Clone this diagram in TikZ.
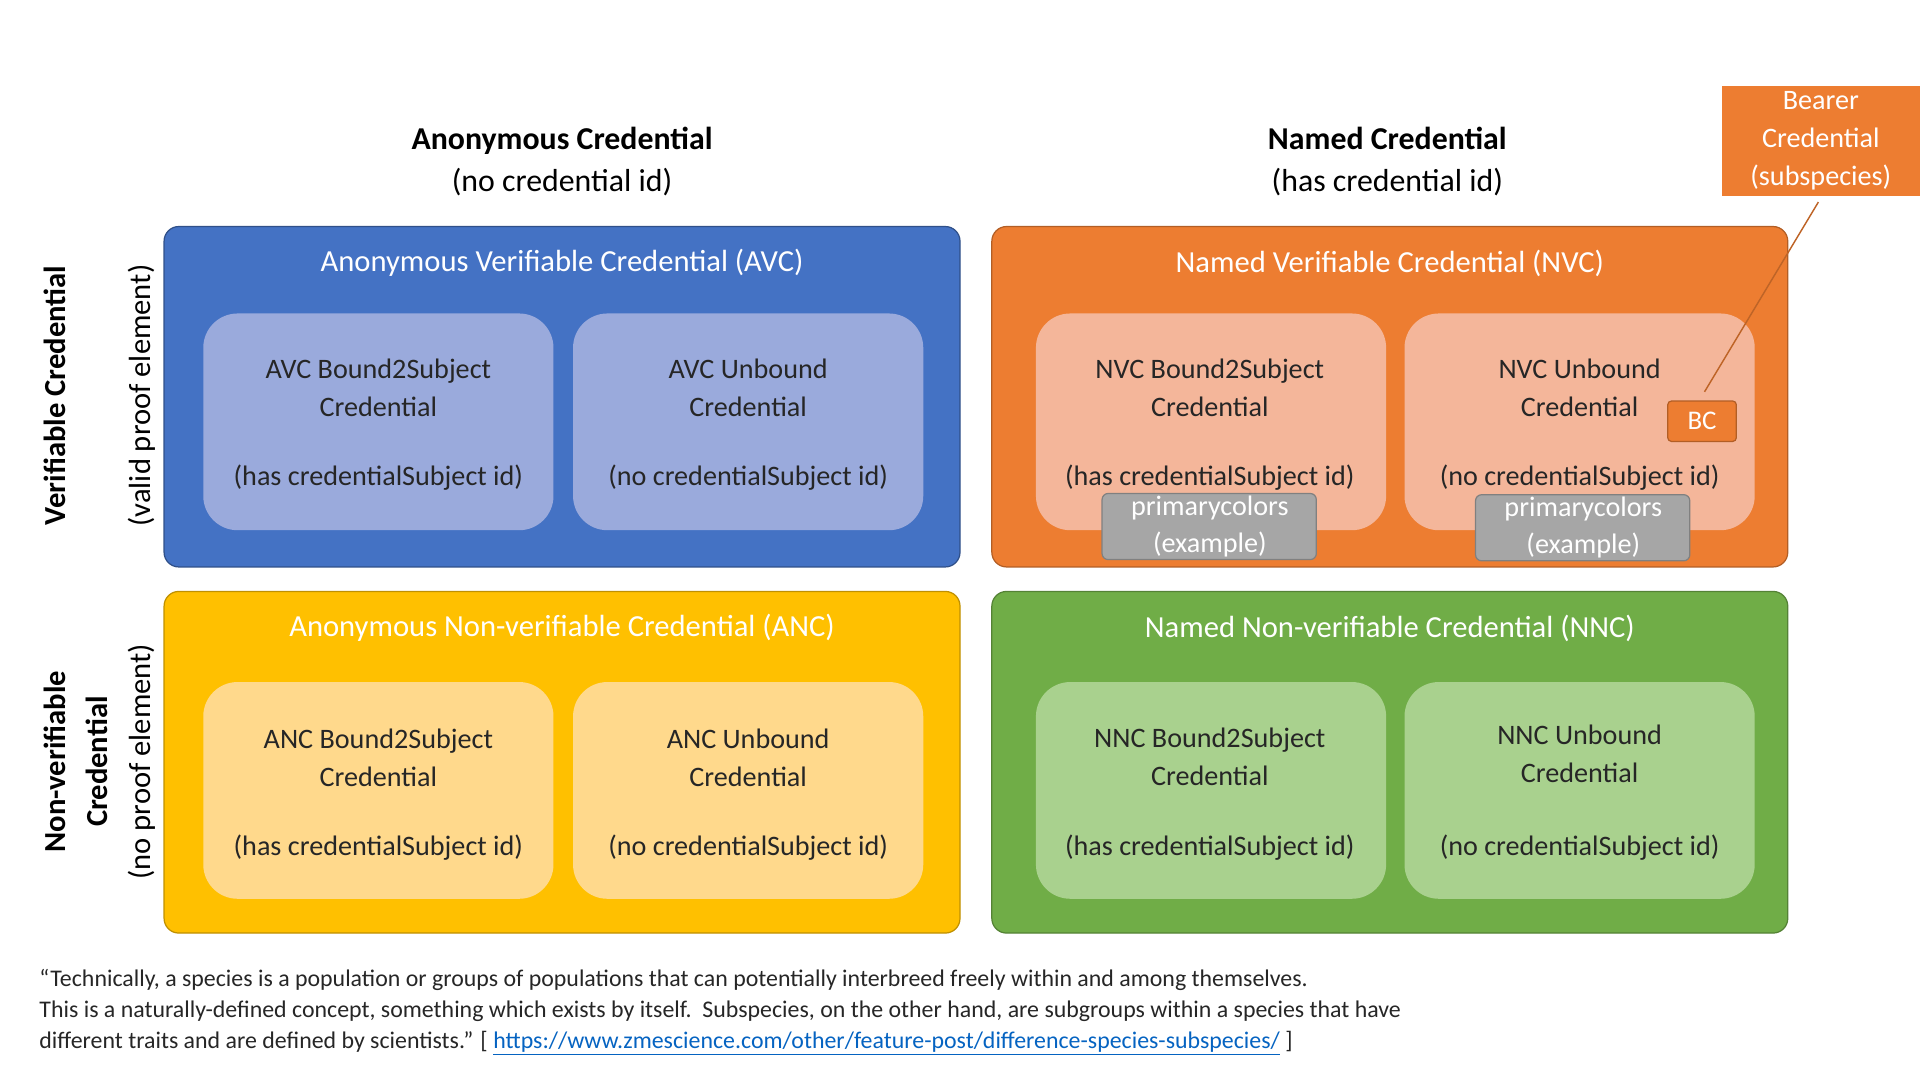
\documentclass[tikz,border=0pt]{standalone}
\usepackage{fontspec}
\setmainfont{Carlito}
\usepackage{hyperref}
\hypersetup{hidelinks}
\definecolor{blu}{HTML}{4472C4}\definecolor{blul}{HTML}{9AAADC}
\definecolor{org}{HTML}{ED7D31}\definecolor{orgl}{HTML}{F4B69A}
\definecolor{yel}{HTML}{FFC000}\definecolor{yell}{HTML}{FFD98C}
\definecolor{grn}{HTML}{70AD47}\definecolor{grnl}{HTML}{A9D18E}
\definecolor{txt}{HTML}{262626}\definecolor{link}{HTML}{0563C1}
\begin{document}
\begin{tikzpicture}[x=1pt,y=-1pt,
 big/.style={rounded corners=12pt,line width=1pt},
 inner/.style={rounded corners=28pt,draw=none},
 ttl/.style={text=white,font=\fontsize{25}{30}\selectfont},
 itx/.style={text=txt,font=\fontsize{23}{31}\selectfont,align=center},
 gry/.style={fill=black!35,draw=black!50,line width=1pt,rounded corners=5pt},
 hd/.style={font=\fontsize{26}{34}\selectfont,align=center}]
\useasboundingbox (0,0) rectangle (1568,882);
% headers
\node[hd] (h1) at (459,132) {\textbf{Anonymous Credential}\\(no credential id)};
\node[hd] (h2) at (1133,132) {\textbf{Named Credential}\\(has credential id)};
% side labels
\node[rotate=90,font=\bfseries\fontsize{25}{30}\selectfont] (s1) at (45,323) {Verifiable Credential};
\node[rotate=90,font=\fontsize{25}{30}\selectfont] (s2) at (116,323) {(valid proof element)};
\node[rotate=90,font=\bfseries\fontsize{25}{35}\selectfont,align=center] (s3) at (62,622) {Non-verifiable\\Credential};
\node[rotate=90,font=\fontsize{25}{30}\selectfont] (s4) at (116,622) {(no proof element)};
% big boxes
\draw[big,fill=blu,draw=blu!70!black] (134,185) rectangle (784,463);
\draw[big,fill=org,draw=org!75!black] (810,185) rectangle (1460,463);
\draw[big,fill=yel,draw=yel!75!black] (134,483) rectangle (784,762);
\draw[big,fill=grn,draw=grn!75!black] (810,483) rectangle (1460,762);
\node[ttl] (t1) at (459,215) {Anonymous Verifiable Credential (AVC)};
\node[ttl] (t2) at (1135,215) {Named Verifiable Credential (NVC)};
\node[ttl] (t3) at (459,513) {Anonymous Non-verifiable Credential (ANC)};
\node[ttl] (t4) at (1135,513) {Named Non-verifiable Credential (NNC)};
% inner boxes
\foreach \x/\c/\y in {166/blul/256,468/blul/256,846/orgl/256,1147/orgl/256,166/yell/557,468/yell/557,846/grnl/557,1147/grnl/557}
  \fill[inner,\c] (\x,\y) rectangle ++(286,177);
\node[itx] (a1) at (309,317) {AVC Bound2Subject\\Credential};
\node[itx] (a1b) at (309,390) {(has credentialSubject id)};
\node[itx] (a2) at (611,317) {AVC Unbound\\Credential};
\node[itx] (a2b) at (611,390) {(no credentialSubject id)};
\node[itx] (n1) at (988,317) {NVC Bound2Subject\\Credential};
\node[itx] (n1b) at (988,390) {(has credentialSubject id)};
\node[itx] (n2) at (1290,317) {NVC Unbound\\Credential};
\node[itx] (n2b) at (1290,390) {(no credentialSubject id)};
\node[itx] (c1) at (309,619) {ANC Bound2Subject\\Credential};
\node[itx] (c1b) at (309,692) {(has credentialSubject id)};
\node[itx] (c2) at (611,619) {ANC Unbound\\Credential};
\node[itx] (c2b) at (611,692) {(no credentialSubject id)};
\node[itx] (m1) at (988,618) {NNC Bound2Subject\\Credential};
\node[itx] (m1b) at (988,692) {(has credentialSubject id)};
\node[itx] (m2) at (1290,616) {NNC Unbound\\Credential};
\node[itx] (m2b) at (1290,692) {(no credentialSubject id)};
% gray example boxes
\draw[gry] (900,403) rectangle (1075,457);
\draw[gry] (1205,404) rectangle (1380,458);
\node[text=white,font=\fontsize{23}{30}\selectfont,align=center] (g1) at (988,430) {primarycolors\\(example)};
\node[text=white,font=\fontsize{23}{30}\selectfont,align=center] (g2) at (1293,431) {primarycolors\\(example)};
% BC
\node[draw=org!75!black,fill=org,line width=1pt,rounded corners=3pt,text=white,font=\fontsize{22}{26}\selectfont,minimum width=56pt,minimum height=33pt,inner sep=0pt] (bc) at (1390,344) {BC};
\node[fill=org,text=white,font=\fontsize{23}{31}\selectfont,align=center,minimum width=162pt,minimum height=90pt,inner sep=0pt] (bear) at (1487,115) {Bearer\\Credential\\(subspecies)};
\draw[org!80!black,line width=1.2pt] (1485,165) -- (1392,320);
% footer
\node[anchor=north west,align=left,text=txt,font=\fontsize{19.5}{25.5}\selectfont,inner sep=0pt] (foot) at (32,791)
 {“Technically, a species is a population or groups of populations that can potentially interbreed freely within and among themselves.\\
 This is a naturally-defined concept, something which exists by itself.\ \ Subspecies, on the other hand, are subgroups within a species that have\\
 different traits and are defined by scientists.” [ \textcolor{link}{\underline{https://www.zmescience.com/other/feature-post/difference-species-subspecies/}} ]};
\end{tikzpicture}
\end{document}
